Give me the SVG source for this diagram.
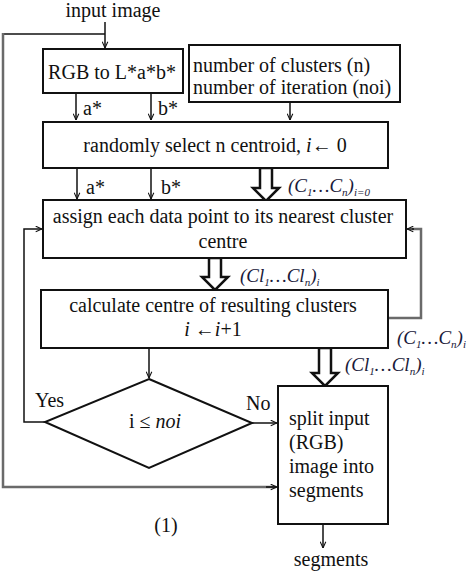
<svg xmlns="http://www.w3.org/2000/svg" width="474" height="571" viewBox="0 0 474 571" font-family="'Liberation Serif', 'DejaVu Serif', serif">
<defs>
<style>
text{font-family:'Liberation Serif','DejaVu Serif',serif;fill:#111;}
.t{font-size:20px;}
.lb{font-size:19px;font-style:italic;fill:#1a1a3a;}
.sb{font-size:11px;}
.box{fill:#fff;stroke:#111;stroke-width:2;}
.ln{fill:none;stroke:#111;stroke-width:1.5;}
.gr{fill:none;stroke:#6a6a6a;stroke-width:2.5;}
.ha{fill:#fff;stroke:#111;stroke-width:2.5;stroke-linejoin:miter;}
</style>
<marker id="ah" viewBox="0 0 10 10" refX="10" refY="5" markerWidth="7" markerHeight="7" orient="auto" markerUnits="userSpaceOnUse">
<path d="M1,1 L10,5 L1,9" fill="none" stroke="#111" stroke-width="1.5"/>
</marker>
</defs>
<g id="connectors">
<line class="ln" x1="105" y1="22" x2="105" y2="48" marker-end="url(#ah)"/>
<polyline class="ln" points="3,34 105,34"/>
<polyline class="gr" points="3,33 3,487 276,487" />
<line class="ln" x1="266" y1="487" x2="277" y2="487" marker-end="url(#ah)"/>
<line class="ln" x1="76" y1="93" x2="76" y2="120" marker-end="url(#ah)"/>
<line class="ln" x1="151" y1="93" x2="151" y2="120" marker-end="url(#ah)"/>
<line class="ln" x1="290" y1="102" x2="290" y2="120" marker-end="url(#ah)"/>
<line class="ln" x1="77" y1="168" x2="77" y2="199" marker-end="url(#ah)"/>
<line class="ln" x1="151" y1="168" x2="151" y2="199" marker-end="url(#ah)"/>
<path class="ha" d="M260,168 V188 H253 L266,201 L279,188 H272 V168 Z"/>
<path class="ha" d="M209,258 V277 H202 L215,290 L228,277 H221 V258 Z"/>
<path class="ha" d="M319,348 V373 H312 L325,386 L338,373 H331 V348 Z"/>
<polyline class="gr" points="388,318 421,318 421,229 412,229"/>
<line class="ln" x1="414" y1="229" x2="407" y2="229" marker-end="url(#ah)"/>
<polyline class="ln" points="45,422 24,422 24,229 42,229" marker-end="url(#ah)"/>
<line class="ln" x1="149" y1="348" x2="149" y2="378" marker-end="url(#ah)"/>
<line class="ln" x1="252" y1="423" x2="277" y2="423" marker-end="url(#ah)"/>
<line class="ln" x1="323" y1="524" x2="323" y2="548" marker-end="url(#ah)"/>
</g>
<g id="input-label"><text class="t" x="113" y="17" text-anchor="middle">input  image</text></g>
<g id="rgb">
<rect class="box" x="43" y="49" width="140" height="44"/>
<text class="t" x="112" y="79" text-anchor="middle">RGB to L*a*b*</text>
</g>
<g id="params">
<rect class="box" x="189" y="45" width="211" height="57"/>
<text class="t" x="193" y="72">number  of clusters (n)</text>
<text class="t" x="193" y="94">number  of iteration (noi)</text>
</g>
<g id="ab1">
<text class="t" x="83" y="115">a*</text>
<text class="t" x="158" y="115">b*</text>
</g>
<g id="random">
<rect class="box" x="43" y="122" width="345" height="46"/>
<text class="t" x="215" y="152" text-anchor="middle">randomly select n centroid, <tspan font-style="italic">i</tspan>← 0</text>
</g>
<g id="ab2">
<text class="t" x="86" y="194">a*</text>
<text class="t" x="161" y="194">b*</text>
</g>
<g id="lbl1"><text class="lb" x="288" y="192">(C<tspan class="sb" dy="4">1</tspan><tspan dy="-4">…C</tspan><tspan class="sb" dy="4">n</tspan><tspan dy="-4">)</tspan><tspan class="sb" dy="4">i=0</tspan></text></g>
<g id="assign">
<rect class="box" x="43" y="200" width="363" height="58"/>
<text class="t" x="223" y="223" text-anchor="middle">assign each data point to its nearest cluster</text>
<text class="t" x="223" y="248" text-anchor="middle">centre</text>
</g>
<g id="lbl2"><text class="lb" x="240" y="282">(Cl<tspan class="sb" dy="4">1</tspan><tspan dy="-4">…Cl</tspan><tspan class="sb" dy="4">n</tspan><tspan dy="-4">)</tspan><tspan class="sb" dy="4">i</tspan></text></g>
<g id="calc">
<rect class="box" x="41" y="290" width="347" height="58"/>
<text class="t" x="213" y="312" text-anchor="middle">calculate  centre of resulting clusters</text>
<text class="t" x="213" y="336" text-anchor="middle"><tspan font-style="italic">i</tspan>  ←<tspan font-style="italic">i</tspan>+1</text>
</g>
<g id="lbl3"><text class="lb" x="397" y="344">(C<tspan class="sb" dy="4">1</tspan><tspan dy="-4">…C</tspan><tspan class="sb" dy="4">n</tspan><tspan dy="-4">)</tspan><tspan class="sb" dy="4">i</tspan></text></g>
<g id="lbl4"><text class="lb" x="345" y="371">(Cl<tspan class="sb" dy="4">1</tspan><tspan dy="-4">…Cl</tspan><tspan class="sb" dy="4">n</tspan><tspan dy="-4">)</tspan><tspan class="sb" dy="4">i</tspan></text></g>
<g id="decision">
<polygon class="box" points="149,379 252,423 149,468 45,422"/>
<text class="t" x="155" y="428" text-anchor="middle">i ≤ <tspan font-style="italic">noi</tspan></text>
</g>
<g id="yes"><text class="t" x="35" y="407">Yes</text></g>
<g id="no"><text class="t" x="246" y="410">No</text></g>
<g id="split">
<rect class="box" x="278" y="386" width="110" height="138"/>
<text class="t" x="289" y="425">split input</text>
<text class="t" x="289" y="449">(RGB)</text>
<text class="t" x="289" y="473">image  into</text>
<text class="t" x="289" y="497">segments</text>
</g>
<g id="fig-num"><text class="t" x="166" y="532" text-anchor="middle">(1)</text></g>
<g id="output-label"><text class="t" x="331" y="566" text-anchor="middle">segments</text></g>
</svg>
